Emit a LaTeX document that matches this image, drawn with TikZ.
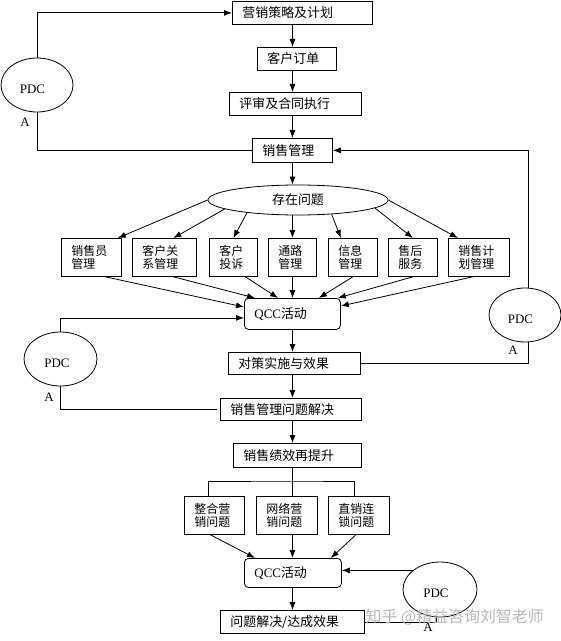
\documentclass[tikz,border=0pt]{standalone}
\usepackage{fontspec}
\setmainfont{Liberation Serif}
\newfontfamily\cjk{Noto Sans CJK SC}
\usetikzlibrary{arrows.meta,shapes.geometric}

\begin{document}
\begin{tikzpicture}[x=1bp,y=-1bp,line width=0.8bp,
    >={Latex[length=8bp,width=6bp]},
    box/.style={draw,anchor=north west,inner xsep=10bp,inner ysep=0pt,minimum height=23bp,align=left,font=\cjk\fontsize{13}{15}\selectfont},
    twobox/.style={box,minimum height=38bp,font=\cjk\fontsize{12}{13.5}\selectfont},
    qccbox/.style={box,rounded corners=4bp,font=\fontsize{13}{15}\selectfont},
    pdc/.style={draw,ellipse,minimum width=72bp,minimum height=54bp,inner sep=0pt},
    alabel/.style={font=\fontsize{13}{15}\selectfont}]
        \useasboundingbox (0,0) rectangle (561,641);
        \coordinate (axis) at (292.5,0);

        % Main flow
        \node[box,text width=120bp] (plan) at (232,1) {营销策略及计划};
        \node[box,text width=59bp] (order) at (257,47) {客户订单};
        \node[box,text width=112bp] (review) at (229,92) {评审及合同执行};
        \node[box,text width=60bp,minimum height=24bp] (mgmt) at (252,138) {销售管理};
        \node[draw,ellipse,minimum width=180bp,minimum height=30bp,inner sep=0pt,font=\cjk\fontsize{13}{15}\selectfont] (issues) at (298,200) {存在问题};

        % Problem areas
        \node[twobox,text width=40bp] (b1) at (61,238) {销售员\\管理};
        \node[twobox,text width=44bp] (b2) at (132,238) {客户关\\系管理};
        \node[twobox,text width=28bp] (b3) at (209,238) {客户\\投诉};
        \node[twobox,text width=28bp] (b4) at (268,238) {通路\\管理};
        \node[twobox,text width=29bp] (b5) at (328,238) {信息\\管理};
        \node[twobox,text width=29bp] (b6) at (388,238) {售后\\服务};
        \node[twobox,text width=41bp] (b7) at (448,238) {销售计\\划管理};

        \node[qccbox,text width=76bp,minimum height=31bp] (qcc) at (244,298) {QCC{\cjk 活动}};
        \node[box,text width=112bp,minimum height=22bp] (measure) at (228,352) {对策实施与效果};
        \node[box,text width=121bp,minimum height=22bp] (solve) at (220,398) {销售管理问题解决};
        \node[box,text width=108bp,minimum height=24bp] (improve) at (233,443) {销售绩效再提升};

        \node[twobox,text width=40bp] (c1) at (184,496) {整合营\\销问题};
        \node[twobox,text width=41bp] (c2) at (256,496) {网络营\\销问题};
        \node[twobox,text width=41bp] (c3) at (328,496) {直销连\\锁问题};
        \node[qccbox,text width=77bp,minimum height=29bp] (qcc2) at (244,558) {QCC{\cjk 活动}};
        \node[box,text width=124bp] (result) at (220,610) {问题解决/达成效果};

        % PDCA circles
        \node[pdc] (pdc1) at (37,85) {};
        \node[pdc] (pdc2) at (525,315) {};
        \node[pdc,minimum width=73bp] (pdc3) at (60.5,359) {};
        \node[pdc,minimum width=74bp,minimum height=55bp] (pdc4) at (440,589.5) {};
        \node[alabel] (p1) at (32.5,89.5) {PDC};
        \node[alabel] (p2) at (520.5,319) {PDC};
        \node[alabel] (p3) at (57,363.5) {PDC};
        \node[alabel] (p4) at (436,593) {PDC};
        \node[alabel] (a1) at (25,122) {A};
        \node[alabel] (a2) at (513,350) {A};
        \node[alabel] (a3) at (49,397) {A};
        \node[alabel] (a4) at (428,627) {A};

        % Arrows down the middle
        \draw[->] (plan.south -| axis) -- (order.north -| axis);
        \draw[->] (order.south -| axis) -- (review.north -| axis);
        \draw[->] (review.south -| axis) -- (mgmt.north -| axis);
        \draw[->] (mgmt.south -| axis) -- (issues.north -| axis);

        \draw[->] (issues.west) -- ([xshift=-4bp]b1.north east);
        \draw[->] (issues.187) -- ([xshift=9bp]b2.north);
        \draw[->] (issues.194) -- (b3.north);
        \draw[->] (issues.south -| axis) -- (b4.north -| axis);
        \draw[->] (issues.337) -- ([xshift=-12bp]b5.north);
        \draw[->] (issues.354) -- (b6.north);
        \draw[->] (issues.east) -- ([xshift=-21bp]b7.north);

        \draw[->] ([xshift=14bp]b1.south) -- ([yshift=-9bp]qcc.north west);
        \draw[->] ([xshift=9bp]b2.south) -- ([xshift=11bp]qcc.north west);
        \draw[->] ([xshift=12bp]b3.south) -- ([xshift=34bp]qcc.north west);
        \draw[->] (b4.south -| axis) -- (qcc.north -| axis);
        \draw[->] (b5.south) -- ([xshift=-22bp]qcc.north east);
        \draw[->] (b6.south) -- ([xshift=-3bp]qcc.north east);
        \draw[->] ([xshift=-6bp]b7.south) -- ([yshift=-8bp]qcc.north east);

        \draw[->] (qcc.south -| axis) -- (measure.north -| axis);
        \draw[->] (measure.south -| axis) -- (solve.north -| axis);
        \draw[->] (solve.south -| axis) -- (improve.north -| axis);

        \coordinate (split) at (292.5,481);
        \draw (improve.south -| split) -- (split);
        \draw ([xshift=-6bp]c1.north) |- (split) -| ([xshift=-5bp]c3.north);
        \draw (split) -- (c2.north -| split);
        \draw[->] ([xshift=-4bp]c1.south) -- ([xshift=11bp]qcc2.north west);
        \draw[->] (c2.south -| axis) -- (qcc2.north -| axis);
        \draw[->] ([xshift=-3bp]c3.south) -- ([xshift=-11bp]qcc2.north east);
        \draw[->] (qcc2.south -| axis) -- (result.north -| axis);

        % Feedback loops
        \draw[->] (pdc1.north) |- (plan.west);
        \draw (mgmt.west) -| (pdc1.south);
        \draw[->] ([xshift=3bp]pdc2.north) |- (mgmt.east);
        \draw (measure.east) -| ([xshift=3bp]pdc2.south);
        \draw[->] (pdc3.north) |- ([yshift=-4bp]qcc.west);
        \draw ([xshift=-3bp]solve.west) -| (pdc3.south);
        \draw[->] (pdc4.145) -- (pdc4.145 -| qcc2.east);
        \draw (result.east) -| ([xshift=-4bp]pdc4.south);

        \node[anchor=west,text=black!28,font=\cjk\fontsize{16}{18}\selectfont] (wm) at (362,617) {知乎 @精益咨询刘智老师};
    \end{tikzpicture}
\end{document}
